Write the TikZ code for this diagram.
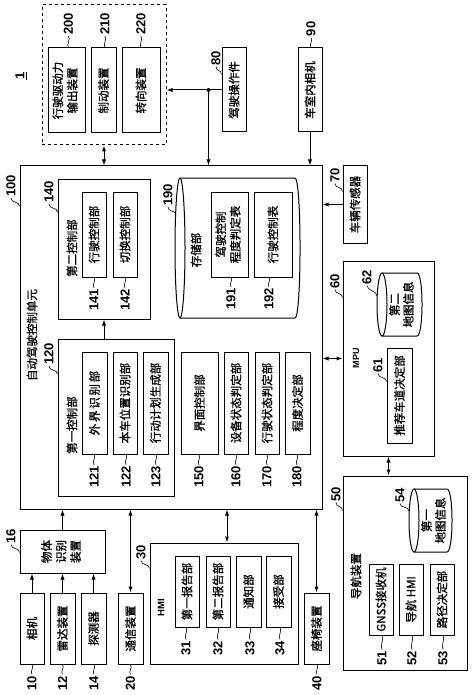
\documentclass[tikz,border=0pt]{standalone}
\usepackage{fontspec}
\setmainfont{Noto Sans CJK SC}[BoldFont={Noto Sans CJK SC}, BoldFeatures={FakeBold=1.2}]
\newfontfamily\numfont{Liberation Sans}
\usepackage{graphicx}
\usetikzlibrary{arrows.meta,calc}

\newcommand{\vt}[1]{\rotatebox{90}{#1}}
\newcommand{\vtt}[2]{\rotatebox{90}{\begin{tabular}{@{}c@{}}#1\\#2\end{tabular}}}
\newcommand{\vttt}[3]{\rotatebox{90}{\begin{tabular}{@{}c@{}}#1\\#2\\#3\end{tabular}}}
% small wavy leaders between a reference number and its part
\newcommand{\wavv}[2]{\draw[lead] (#1) .. controls +(2.5,3) and +(-2.5,-3) .. (#2);}
\newcommand{\wavd}[2]{\draw[lead] (#1) .. controls +(0,5) and +(0,-5) .. (#2);}

\begin{document}
\begin{tikzpicture}[x=1pt, y=-1pt, line width=1pt,
  blk/.style={draw, inner sep=0pt, font=\bfseries\fontsize{11.5}{14.5}\selectfont},
  wide/.style={font=\bfseries\fontsize{11.5}{14.5}\selectfont\addfontfeature{LetterSpace=15}},
  lbl/.style={inner sep=0pt, font=\bfseries\fontsize{11.5}{13.5}\selectfont},
  num/.style={inner sep=0.8pt, font=\numfont\bfseries\fontsize{13}{13}\selectfont},
  lead/.style={line width=0.6pt},
  arr/.style={-{Latex[length=6pt,width=4.2pt]}},
  darr/.style={{Latex[length=6pt,width=4.2pt]}-{Latex[length=6pt,width=4.2pt]}}]
  \useasboundingbox (0,0) rectangle (474,695);

  % output devices, driving controls, cabin camera
  \node[blk, dashed, minimum width=124, minimum height=140] (grp200) at (104,75) {};
  \node[blk, minimum width=37, minimum height=85] (b200) at (66.5,90.5) {\vtt{行驶驱动力}{输出装置}};
  \node[blk, minimum width=25, minimum height=85] (b210) at (103.5,90.5) {\vt{制动装置}};
  \node[blk, minimum width=38, minimum height=85] (b220) at (141,90.5) {\vt{转向装置}};
  \node[blk, minimum width=24, minimum height=84] (b80) at (234,90) {\vt{驾驶操作件}};
  \node[blk, minimum width=24, minimum height=84] (b90) at (310,90) {\vt{车室内相机}};
  \node[num] (one) at (21,76) {\vt{\underline{1}}};

  % automatic driving control unit
  \node[blk, minimum width=302, minimum height=343] (b100) at (171,337.5) {};
  \node[lbl] (t100) at (32,335) {\vt{自动驾驶控制单元}};
  \node[blk, minimum width=92, minimum height=140] (b140) at (104,249) {};
  \node[lbl] (t140) at (72,248) {\vt{第二控制部}};
  \node[blk, minimum width=24, minimum height=85] (b141) at (94,234.5) {\vt{行驶控制部}};
  \node[blk, minimum width=24, minimum height=85] (b142) at (125,234.5) {\vt{切换控制部}};
  \draw (180,178) -- (295,178) .. controls (301.7,178) and (301.7,318) .. (295,318) -- (180,318);
  \draw (180,248) ellipse [x radius=5, y radius=70];
  \coordinate (c190) at (176,215);
  \node[lbl] (t190) at (196,250) {\vt{存储部}};
  \node[blk, minimum width=37, minimum height=85] (b191) at (229.5,234.5) {\vtt{驾驶控制}{程度判定表}};
  \node[blk, minimum width=38, minimum height=85] (b192) at (273,234.5) {\vt{行驶控制表}};
  \node[blk, minimum width=116, minimum height=157] (b120) at (116,417.5) {};
  \node[lbl] (t120) at (72,425) {\vt{第一控制部}};
  \node[blk, wide, minimum width=25, minimum height=102] (b121) at (94.5,403) {\vt{外界识别部}};
  \node[blk, minimum width=24, minimum height=102] (b122) at (125,403) {\vt{本车位置识别部}};
  \node[blk, minimum width=25, minimum height=102] (b123) at (155.5,403) {\vt{行动计划生成部}};
  \node[blk, minimum width=37, minimum height=102] (b150) at (199.5,403) {\vt{界面控制部}};
  \node[blk, minimum width=24, minimum height=102] (b160) at (236,403) {\vt{设备状态判定部}};
  \node[blk, minimum width=24, minimum height=102] (b170) at (267,403) {\vt{行驶状态判定部}};
  \node[blk, minimum width=25, minimum height=102] (b180) at (297.5,403) {\vt{程度决定部}};

  % vehicle sensor, MPU, navigation
  \node[blk, minimum width=24, minimum height=77] (b70) at (355,204.5) {\vt{车辆传感器}};
  \node[blk, minimum width=91, minimum height=195] (b60) at (388.5,358.5) {};
  \node[lbl, font=\numfont\bfseries\fontsize{9}{9}\selectfont] (t60) at (356,358) {\vt{MPU}};
  \draw (382,273) -- (417,273) .. controls (423.7,273) and (423.7,336) .. (417,336) -- (382,336);
  \draw (382,304.5) ellipse [x radius=5, y radius=31.5];
  \coordinate (c62) at (377,296);
  \node[lbl] (t62) at (403,304.5) {\vtt{第二}{地图信息}};
  \node[blk, minimum width=25, minimum height=95] (b61) at (399.5,395.5) {\vt{推荐车道决定部}};
  \node[blk, minimum width=124, minimum height=194] (b50) at (405,573) {};
  \node[lbl] (t50) at (356,576) {\vt{导航装置}};
  \draw (414,489) -- (447,489) .. controls (453.7,489) and (453.7,552) .. (447,552) -- (414,552);
  \draw (414,520.5) ellipse [x radius=5, y radius=31.5];
  \coordinate (c54) at (409,511);
  \node[lbl] (t54) at (435,520.5) {\vtt{第一}{地图信息}};
  \node[blk, minimum width=24, minimum height=71] (b51) at (381,599.5) {\vt{GNSS接收机}};
  \node[blk, minimum width=24, minimum height=71] (b52) at (411,599.5) {\vt{导航 HMI}};
  \node[blk, minimum width=24, minimum height=71] (b53) at (442,599.5) {\vt{路径决定部}};

  % HMI, seat, communication, sensors
  \node[blk, minimum width=148, minimum height=121] (b30) at (224,603.5) {};
  \node[lbl, font=\numfont\bfseries\fontsize{9.5}{9.5}\selectfont] (t30) at (161,608) {\vt{HMI}};
  \node[blk, minimum width=24, minimum height=71] (b31) at (187,591.5) {\vt{第一报告部}};
  \node[blk, minimum width=24, minimum height=71] (b32) at (218,591.5) {\vt{第二报告部}};
  \node[blk, minimum width=25, minimum height=71] (b33) at (248.5,591.5) {\vt{通知部}};
  \node[blk, minimum width=25, minimum height=71] (b34) at (278.5,591.5) {\vt{接受部}};
  \node[blk, minimum width=25, minimum height=71] (b40) at (316.5,628.5) {\vt{座椅装置}};
  \node[blk, minimum width=25, minimum height=71] (b20) at (130.5,628.5) {\vt{通信装置}};
  \node[blk, minimum width=85, minimum height=43] (b16) at (62.5,551.5) {\vttt{物体}{识别}{装置}};
  \node[blk, minimum width=24, minimum height=71] (b10) at (32,628.5) {\vt{相机}};
  \node[blk, minimum width=25, minimum height=71] (b12) at (62.5,628.5) {\vt{雷达装置}};
  \node[blk, minimum width=25, minimum height=71] (b14) at (93.5,628.5) {\vt{探测器}};

  % connections
  \coordinate (j80) at ($(b80.west)+(-13,0)$);
  \draw[arr] (b80.west) -- (b80.west -| grp200.east);
  \fill (j80) circle (2);
  \draw[arr] (j80) -- (j80 |- b100.north);
  \draw[arr] (b90.south) -- (b90.south |- b100.north);
  \draw[darr] (grp200.south) -- (grp200.south |- b100.north);
  \draw[arr] (b70.west) -- (b70.west -| b100.east);
  \draw[arr] (b140.south |- b120.north) -- (b140.south);
  \draw[darr] (b60.west -| b100.east) -- (b60.west);
  \draw[darr] (b60.south) -- (b60.south |- b50.north);
  \draw[darr] (b40.north |- b100.south) -- (b40.north);
  \coordinate (h30) at ($(b30.north)+(3,0)$);
  \draw[darr] (h30 |- b100.south) -- (h30);
  \draw[darr] (b20.north |- b100.south) -- (b20.north);
  \draw[arr] (b16.north) -- (b16.north |- b100.south);
  \foreach \s in {b10,b12,b14}
    \draw[arr] (\s.north) -- (\s.north |- b16.south);

  % reference numbers
  \node[num] (n200) at (68.5,24) {\vt{200}};
  \node[num] (n210) at (105,24) {\vt{210}};
  \node[num] (n220) at (141,24) {\vt{220}};
  \node[num] (n90) at (311,29) {\vt{90}};
  \wavv{n200.south}{n200.south |- b200.north}
  \wavv{n210.south}{n210.south |- b210.north}
  \wavv{n220.south}{n220.south |- b220.north}
  \wavv{n90.south}{n90.south |- b90.north}

  \node[num] (n80) at (216,58) {\vt{80}};
  \node[num] (n100) at (11,186) {\vt{100}};
  \node[num] (n140) at (49,192) {\vt{140}};
  \node[num] (n120) at (49,354) {\vt{120}};
  \node[num] (n190) at (168,195) {\vt{190}};
  \node[num] (n70) at (335,175) {\vt{70}};
  \node[num] (n60) at (335,281) {\vt{60}};
  \node[num] (n62) at (367,277) {\vt{62}};
  \node[num] (n61) at (378,365) {\vt{61}};
  \node[num] (n50) at (336,494) {\vt{50}};
  \node[num] (n54) at (400,495) {\vt{54}};
  \node[num] (n16) at (11,536) {\vt{16}};
  \node[num] (n30) at (141,552) {\vt{30}};
  \foreach \n in {80,100,140,120,70,60,61,50,16,30}{
    \wavd{n\n.south}{$(b\n.west |- n\n.south)+(0,8)$}
  }
  \foreach \n in {190,62,54}{
    \wavd{n\n.south}{c\n}
  }

  \node[num] (n141) at (94,300) {\vt{141}};
  \node[num] (n142) at (125,300) {\vt{142}};
  \node[num] (n191) at (231,299) {\vt{191}};
  \node[num] (n192) at (269,299) {\vt{192}};
  \node[num] (n121) at (94,477) {\vt{121}};
  \node[num] (n122) at (126,477) {\vt{122}};
  \node[num] (n123) at (156,477) {\vt{123}};
  \node[num] (n150) at (199,477) {\vt{150}};
  \node[num] (n160) at (236,477) {\vt{160}};
  \node[num] (n170) at (267,477) {\vt{170}};
  \node[num] (n180) at (297,477) {\vt{180}};
  \node[num] (n31) at (186,648) {\vt{31}};
  \node[num] (n32) at (218,648) {\vt{32}};
  \node[num] (n33) at (250,648) {\vt{33}};
  \node[num] (n34) at (280,648) {\vt{34}};
  \node[num] (n51) at (382,658) {\vt{51}};
  \node[num] (n52) at (412,658) {\vt{52}};
  \node[num] (n53) at (443,658) {\vt{53}};
  \node[num] (n10) at (32,683) {\vt{10}};
  \node[num] (n12) at (62.5,683) {\vt{12}};
  \node[num] (n14) at (94,683) {\vt{14}};
  \node[num] (n20) at (130.5,683) {\vt{20}};
  \node[num] (n40) at (317,683) {\vt{40}};
  \foreach \n in {141,142,191,192,121,122,123,150,160,170,180,31,32,33,34,51,52,53,10,12,14,20,40}{
    \wavv{n\n.north |- b\n.south}{n\n.north}
  }
\end{tikzpicture}
\end{document}
